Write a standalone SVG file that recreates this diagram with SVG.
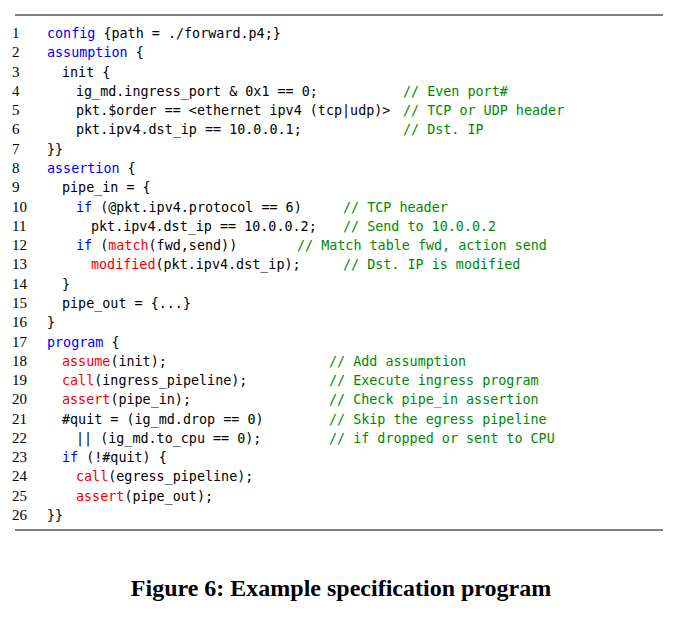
<svg xmlns="http://www.w3.org/2000/svg" width="682" height="621" viewBox="0 0 682 621">
<style>
text{font-family:"DejaVu Sans Mono","Liberation Mono",monospace;font-size:13.4px;fill:#000;white-space:pre}
.n{font-family:"Liberation Serif",serif;font-size:15px}
.k{fill:#0000ee}.f{fill:#ee0000}.c{fill:#008800}
.cap{font-family:"Liberation Serif",serif;font-weight:bold;font-size:24px}
</style>
<rect width="682" height="621" fill="#fff"/>
<line x1="15" y1="15" x2="663" y2="15" stroke="#000" stroke-width="1.2"/>
<line x1="15" y1="530" x2="663" y2="530" stroke="#000" stroke-width="1.2"/>
<g id="numbers">
<text class="n" x="12" y="38">1</text><text class="n" x="12" y="57.3">2</text><text class="n" x="12" y="76.6">3</text><text class="n" x="12" y="95.8">4</text><text class="n" x="12" y="115.1">5</text><text class="n" x="12" y="134.4">6</text><text class="n" x="12" y="153.7">7</text><text class="n" x="12" y="173">8</text><text class="n" x="12" y="192.2">9</text><text class="n" x="12" y="211.5">10</text><text class="n" x="12" y="230.8">11</text><text class="n" x="12" y="250.1">12</text><text class="n" x="12" y="269.4">13</text><text class="n" x="12" y="288.6">14</text><text class="n" x="12" y="307.9">15</text><text class="n" x="12" y="327.2">16</text><text class="n" x="12" y="346.5">17</text><text class="n" x="12" y="365.8">18</text><text class="n" x="12" y="385">19</text><text class="n" x="12" y="404.3">20</text><text class="n" x="12" y="423.6">21</text><text class="n" x="12" y="442.9">22</text><text class="n" x="12" y="462.2">23</text><text class="n" x="12" y="481.4">24</text><text class="n" x="12" y="500.7">25</text><text class="n" x="12" y="520">26</text>
</g>
<g id="code">
<text x="47" y="38"><tspan class="k">config</tspan> {path = ./forward.p4;}</text>
<text x="47" y="57.3"><tspan class="k">assumption</tspan> {</text>
<text x="62" y="76.6">init {</text>
<text x="76" y="95.8">ig_md.ingress_port &amp; 0x1 == 0;</text><text class="c" x="403" y="95.8">// Even port#</text>
<text x="76" y="115.1">pkt.$order == &lt;ethernet ipv4 (tcp|udp)&gt;</text><text class="c" x="403" y="115.1">// TCP or UDP header</text>
<text x="76" y="134.4">pkt.ipv4.dst_ip == 10.0.0.1;</text><text class="c" x="403" y="134.4">// Dst. IP</text>
<text x="47" y="153.7">}}</text>
<text x="47" y="173"><tspan class="k">assertion</tspan> {</text>
<text x="62" y="192.2">pipe_in = {</text>
<text x="76" y="211.5"><tspan class="k">if</tspan> (@pkt.ipv4.protocol == 6)</text><text class="c" x="343" y="211.5">// TCP header</text>
<text x="91" y="230.8">pkt.ipv4.dst_ip == 10.0.0.2;</text><text class="c" x="343" y="230.8">// Send to 10.0.0.2</text>
<text x="76" y="250.1"><tspan class="k">if</tspan> (<tspan class="f">match</tspan>(fwd,send))</text><text class="c" x="297" y="250.1">// Match table fwd, action send</text>
<text x="91" y="269.4"><tspan class="f">modified</tspan>(pkt.ipv4.dst_ip);</text><text class="c" x="343" y="269.4">// Dst. IP is modified</text>
<text x="62" y="288.6">}</text>
<text x="62" y="307.9">pipe_out = {...}</text>
<text x="47" y="327.2">}</text>
<text x="47" y="346.5"><tspan class="k">program</tspan> {</text>
<text x="62" y="365.8"><tspan class="f">assume</tspan>(init);</text><text class="c" x="329" y="365.8">// Add assumption</text>
<text x="62" y="385"><tspan class="f">call</tspan>(ingress_pipeline);</text><text class="c" x="329" y="385">// Execute ingress program</text>
<text x="62" y="404.3"><tspan class="f">assert</tspan>(pipe_in);</text><text class="c" x="329" y="404.3">// Check pipe_in assertion</text>
<text x="62" y="423.6">#quit = (ig_md.drop == 0)</text><text class="c" x="329" y="423.6">// Skip the egress pipeline</text>
<text x="76" y="442.9">|| (ig_md.to_cpu == 0);</text><text class="c" x="329" y="442.9">// if dropped or sent to CPU</text>
<text x="62" y="462.2"><tspan class="k">if</tspan> (!#quit) {</text>
<text x="76" y="481.4"><tspan class="f">call</tspan>(egress_pipeline);</text>
<text x="76" y="500.7"><tspan class="f">assert</tspan>(pipe_out);</text>
<text x="47" y="520">}}</text>
</g>
<text class="cap" x="341" y="596" text-anchor="middle">Figure 6: Example specification program</text>
</svg>
